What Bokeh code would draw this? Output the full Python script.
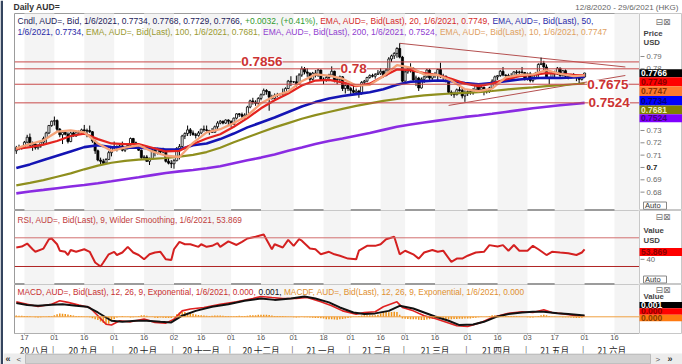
import pandas as pd
from bokeh.plotting import figure
from bokeh.layouts import column, row
from bokeh.models import ColumnDataSource, Range1d, FixedTicker, Label, Span
from bokeh.core.properties import value
from bokeh.embed import file_html
from bokeh.resources import INLINE

# ----------------------------------------------------------------- data
FIRST_DAY = "2020-08-12"
AXIS_END_DAY = "2021-06-29"

OPEN = [0.7135, 0.7160, 0.7155,
        0.7165, 0.7205, 0.7245, 0.7180, 0.7190, 0.7160, 0.7175, 0.7205, 0.7235, 0.7280,
        0.7340, 0.7375, 0.7380, 0.7310, 0.7265, 0.7285, 0.7270, 0.7210, 0.7280, 0.7255,
        0.7285, 0.7290, 0.7305, 0.7295, 0.7300, 0.7290, 0.7215, 0.7135, 0.7060, 0.7050,
        0.7035, 0.7065, 0.7120, 0.7160, 0.7170, 0.7165, 0.7175, 0.7140, 0.7155, 0.7180,
        0.7235, 0.7200, 0.7165, 0.7140, 0.7080, 0.7085, 0.7050, 0.7070, 0.7140, 0.7120,
        0.7145, 0.7125, 0.7135, 0.7050, 0.7035, 0.7030, 0.7055, 0.7155, 0.7170, 0.7255,
        0.7275, 0.7305, 0.7280, 0.7265, 0.7260, 0.7280, 0.7310, 0.7305, 0.7300, 0.7295,
        0.7285, 0.7330, 0.7360, 0.7375, 0.7360, 0.7385, 0.7375, 0.7350, 0.7400, 0.7435,
        0.7430, 0.7415, 0.7425, 0.7490, 0.7540, 0.7530, 0.7520, 0.7560, 0.7590, 0.7625,
        0.7615, 0.7570, 0.7560, 0.7585, 0.7590, 0.7595, 0.7600, 0.7640, 0.7700, 0.7695,
        0.7695, 0.7680, 0.7750, 0.7800, 0.7775, 0.7765, 0.7715, 0.7765, 0.7745, 0.7790,
        0.7715, 0.7710, 0.7730, 0.7750, 0.7780, 0.7710, 0.7715, 0.7735, 0.7640, 0.7665,
        0.7640, 0.7625, 0.7610, 0.7620, 0.7600, 0.7690, 0.7700, 0.7730, 0.7745, 0.7740,
        0.7755, 0.7765, 0.7780, 0.7745, 0.7790, 0.7880, 0.7905, 0.7925, 0.7965, 0.7895,
        0.7700, 0.7775, 0.7800, 0.7805, 0.7710, 0.7725, 0.7645, 0.7715, 0.7735, 0.7790,
        0.7725, 0.7745, 0.7745, 0.7795, 0.7735, 0.7740, 0.7725, 0.7610, 0.7595, 0.7590,
        0.7630, 0.7625, 0.7580, 0.7600, 0.7615, 0.7605, 0.7630, 0.7665, 0.7630, 0.7650,
        0.7615, 0.7620, 0.7645, 0.7700, 0.7735, 0.7745, 0.7780, 0.7750, 0.7745, 0.7715,
        0.7730, 0.7775, 0.7770, 0.7775, 0.7770, 0.7715, 0.7760, 0.7705, 0.7730, 0.7765,
        0.7835, 0.7845, 0.7815, 0.7725, 0.7730, 0.7770, 0.7760, 0.7805, 0.7745, 0.7785,
        0.7740, 0.7735, 0.7750, 0.7735, 0.7735, 0.7715, 0.7734]
HIGH = [0.7175, 0.7185, 0.7175,
        0.7215, 0.7265, 0.7275, 0.7210, 0.7200, 0.7190, 0.7215, 0.7250, 0.7290, 0.7345,
        0.7380, 0.7413, 0.7390, 0.7320, 0.7300, 0.7300, 0.7285, 0.7290, 0.7300, 0.7290,
        0.7300, 0.7315, 0.7345, 0.7315, 0.7340, 0.7295, 0.7225, 0.7145, 0.7080, 0.7070,
        0.7075, 0.7135, 0.7170, 0.7210, 0.7180, 0.7185, 0.7210, 0.7170, 0.7190, 0.7243,
        0.7240, 0.7210, 0.7175, 0.7145, 0.7100, 0.7100, 0.7080, 0.7150, 0.7145, 0.7160,
        0.7150, 0.7160, 0.7140, 0.7080, 0.7060, 0.7070, 0.7165, 0.7190, 0.7265, 0.7285,
        0.7340, 0.7320, 0.7300, 0.7280, 0.7295, 0.7315, 0.7340, 0.7340, 0.7305, 0.7320,
        0.7340, 0.7375, 0.7385, 0.7380, 0.7390, 0.7390, 0.7380, 0.7405, 0.7440, 0.7440,
        0.7445, 0.7440, 0.7500, 0.7550, 0.7565, 0.7545, 0.7570, 0.7600, 0.7640, 0.7635,
        0.7620, 0.7590, 0.7600, 0.7605, 0.7600, 0.7640, 0.7650, 0.7710, 0.7740, 0.7700,
        0.7745, 0.7765, 0.7820, 0.7815, 0.7805, 0.7770, 0.7775, 0.7790, 0.7800, 0.7795,
        0.7730, 0.7745, 0.7760, 0.7820, 0.7785, 0.7730, 0.7745, 0.7740, 0.7675, 0.7680,
        0.7655, 0.7665, 0.7640, 0.7630, 0.7700, 0.7710, 0.7735, 0.7755, 0.7760, 0.7765,
        0.7790, 0.7805, 0.7785, 0.7805, 0.7895, 0.7915, 0.7935, 0.7975, 0.8007, 0.7905,
        0.7790, 0.7815, 0.7845, 0.7810, 0.7745, 0.7735, 0.7730, 0.7745, 0.7800, 0.7800,
        0.7765, 0.7775, 0.7800, 0.7850, 0.7760, 0.7745, 0.7730, 0.7625, 0.7615, 0.7640,
        0.7655, 0.7650, 0.7625, 0.7625, 0.7625, 0.7645, 0.7675, 0.7670, 0.7665, 0.7655,
        0.7630, 0.7655, 0.7715, 0.7745, 0.7750, 0.7790, 0.7815, 0.7755, 0.7760, 0.7765,
        0.7780, 0.7790, 0.7785, 0.7815, 0.7775, 0.7770, 0.7775, 0.7745, 0.7775, 0.7845,
        0.7891, 0.7865, 0.7835, 0.7735, 0.7780, 0.7785, 0.7815, 0.7810, 0.7790, 0.7795,
        0.7745, 0.7760, 0.7765, 0.7745, 0.7750, 0.7745, 0.7768]
LOW = [0.7110, 0.7140, 0.7145,
       0.7155, 0.7195, 0.7170, 0.7135, 0.7145, 0.7145, 0.7160, 0.7180, 0.7190, 0.7270,
       0.7330, 0.7340, 0.7290, 0.7245, 0.7190, 0.7260, 0.7195, 0.7205, 0.7250, 0.7250,
       0.7265, 0.7270, 0.7285, 0.7245, 0.7280, 0.7200, 0.7110, 0.7050, 0.7020, 0.7025,
       0.7030, 0.7060, 0.7090, 0.7150, 0.7130, 0.7150, 0.7130, 0.7125, 0.7145, 0.7175,
       0.7195, 0.7155, 0.7135, 0.7070, 0.7060, 0.7045, 0.7020, 0.7065, 0.7090, 0.7105,
       0.7110, 0.7115, 0.7040, 0.7025, 0.6995, 0.6990, 0.7050, 0.7065, 0.7160, 0.7230,
       0.7255, 0.7255, 0.7260, 0.7235, 0.7250, 0.7270, 0.7290, 0.7290, 0.7265, 0.7280,
       0.7285, 0.7310, 0.7350, 0.7350, 0.7355, 0.7340, 0.7330, 0.7345, 0.7390, 0.7410,
       0.7390, 0.7395, 0.7420, 0.7480, 0.7510, 0.7500, 0.7505, 0.7545, 0.7585, 0.7590,
       0.7460, 0.7550, 0.7550, 0.7570, 0.7585, 0.7585, 0.7595, 0.7635, 0.7660, 0.7685,
       0.7655, 0.7670, 0.7735, 0.7755, 0.7735, 0.7690, 0.7705, 0.7730, 0.7735, 0.7705,
       0.7675, 0.7695, 0.7700, 0.7745, 0.7690, 0.7675, 0.7690, 0.7620, 0.7600, 0.7620,
       0.7590, 0.7600, 0.7590, 0.7565, 0.7590, 0.7665, 0.7690, 0.7720, 0.7730, 0.7720,
       0.7750, 0.7750, 0.7730, 0.7740, 0.7785, 0.7855, 0.7880, 0.7890, 0.7885, 0.7690,
       0.7695, 0.7760, 0.7770, 0.7700, 0.7660, 0.7620, 0.7640, 0.7685, 0.7725, 0.7710,
       0.7705, 0.7725, 0.7705, 0.7725, 0.7710, 0.7690, 0.7605, 0.7580, 0.7565, 0.7585,
       0.7615, 0.7560, 0.7532, 0.7580, 0.7590, 0.7590, 0.7625, 0.7620, 0.7615, 0.7585,
       0.7600, 0.7605, 0.7640, 0.7690, 0.7710, 0.7735, 0.7740, 0.7710, 0.7700, 0.7705,
       0.7720, 0.7740, 0.7740, 0.7760, 0.7705, 0.7705, 0.7690, 0.7690, 0.7715, 0.7735,
       0.7830, 0.7790, 0.7720, 0.7675, 0.7720, 0.7725, 0.7750, 0.7735, 0.7740, 0.7725,
       0.7715, 0.7720, 0.7725, 0.7700, 0.7675, 0.7705, 0.7729]
CLOSE = [0.7160, 0.7155, 0.7165,
         0.7205, 0.7245, 0.7180, 0.7190, 0.7160, 0.7175, 0.7205, 0.7235, 0.7280, 0.7340,
         0.7375, 0.7380, 0.7310, 0.7265, 0.7285, 0.7270, 0.7210, 0.7280, 0.7255, 0.7285,
         0.7290, 0.7305, 0.7295, 0.7300, 0.7290, 0.7215, 0.7135, 0.7060, 0.7050, 0.7035,
         0.7065, 0.7120, 0.7160, 0.7170, 0.7165, 0.7175, 0.7140, 0.7155, 0.7180, 0.7235,
         0.7200, 0.7165, 0.7140, 0.7080, 0.7085, 0.7050, 0.7070, 0.7140, 0.7120, 0.7145,
         0.7125, 0.7135, 0.7050, 0.7035, 0.7030, 0.7055, 0.7155, 0.7170, 0.7255, 0.7275,
         0.7305, 0.7280, 0.7265, 0.7260, 0.7280, 0.7310, 0.7305, 0.7300, 0.7295, 0.7285,
         0.7330, 0.7360, 0.7375, 0.7360, 0.7385, 0.7375, 0.7350, 0.7400, 0.7435, 0.7430,
         0.7415, 0.7425, 0.7490, 0.7540, 0.7530, 0.7520, 0.7560, 0.7590, 0.7625, 0.7615,
         0.7570, 0.7560, 0.7585, 0.7590, 0.7595, 0.7600, 0.7640, 0.7700, 0.7695, 0.7695,
         0.7680, 0.7750, 0.7800, 0.7775, 0.7765, 0.7715, 0.7765, 0.7745, 0.7790, 0.7715,
         0.7710, 0.7730, 0.7750, 0.7780, 0.7710, 0.7715, 0.7735, 0.7640, 0.7665, 0.7640,
         0.7625, 0.7610, 0.7620, 0.7600, 0.7690, 0.7700, 0.7730, 0.7745, 0.7740, 0.7755,
         0.7765, 0.7780, 0.7745, 0.7790, 0.7880, 0.7905, 0.7925, 0.7965, 0.7895, 0.7700,
         0.7775, 0.7800, 0.7805, 0.7710, 0.7725, 0.7645, 0.7715, 0.7735, 0.7790, 0.7725,
         0.7745, 0.7745, 0.7795, 0.7735, 0.7740, 0.7725, 0.7610, 0.7595, 0.7590, 0.7630,
         0.7625, 0.7580, 0.7600, 0.7615, 0.7605, 0.7630, 0.7665, 0.7630, 0.7650, 0.7615,
         0.7620, 0.7645, 0.7700, 0.7735, 0.7745, 0.7780, 0.7750, 0.7745, 0.7715, 0.7730,
         0.7775, 0.7770, 0.7775, 0.7770, 0.7715, 0.7760, 0.7705, 0.7730, 0.7765, 0.7835,
         0.7845, 0.7815, 0.7725, 0.7730, 0.7770, 0.7760, 0.7805, 0.7745, 0.7785, 0.7740,
         0.7735, 0.7750, 0.7735, 0.7735, 0.7715, 0.7734, 0.7766]

# EMA lines, one reading per week (trading-day index)
EMA_IDX = list(range(0, 206, 5)) + [209]
EMA10 = [0.7155, 0.7190, 0.7220, 0.7290, 0.7300, 0.7285, 0.7195, 0.7135, 0.7160, 0.7180,
         0.7130, 0.7095, 0.7085, 0.7200, 0.7285, 0.7310, 0.7360, 0.7420, 0.7520, 0.7580,
         0.7615, 0.7700, 0.7755, 0.7745, 0.7720, 0.7665, 0.7670, 0.7740, 0.7830, 0.7810,
         0.7755, 0.7750, 0.7705, 0.7635, 0.7620, 0.7640, 0.7730, 0.7750, 0.7755, 0.7790,
         0.7760, 0.7740, 0.7747]
EMA20 = [0.7150, 0.7165, 0.7185, 0.7215, 0.7255, 0.7275, 0.7230, 0.7195, 0.7190, 0.7190,
         0.7160, 0.7130, 0.7135, 0.7190, 0.7235, 0.7270, 0.7330, 0.7400, 0.7480, 0.7545,
         0.7600, 0.7665, 0.7705, 0.7710, 0.7690, 0.7660, 0.7680, 0.7740, 0.7795, 0.7790,
         0.7765, 0.7750, 0.7720, 0.7680, 0.7660, 0.7680, 0.7715, 0.7740, 0.7750, 0.7765,
         0.7760, 0.7752, 0.7749]
EMA50 = [0.6995, 0.7025, 0.7060, 0.7095, 0.7130, 0.7165, 0.7180, 0.7165, 0.7160, 0.7160,
         0.7155, 0.7145, 0.7145, 0.7180, 0.7195, 0.7230, 0.7275, 0.7325, 0.7365, 0.7405,
         0.7450, 0.7495, 0.7530, 0.7560, 0.7580, 0.7595, 0.7610, 0.7635, 0.7670, 0.7695,
         0.7700, 0.7705, 0.7700, 0.7685, 0.7675, 0.7685, 0.7700, 0.7713, 0.7724, 0.7728,
         0.7726, 0.7730, 0.7734]
EMA100 = [0.6855, 0.6875, 0.6897, 0.6925, 0.6952, 0.6985, 0.7015, 0.7038, 0.7053, 0.7063,
          0.7070, 0.7077, 0.7088, 0.7102, 0.7125, 0.7160, 0.7205, 0.7245, 0.7285, 0.7325,
          0.7360, 0.7395, 0.7425, 0.7450, 0.7475, 0.7500, 0.7520, 0.7540, 0.7555, 0.7572,
          0.7585, 0.7593, 0.7600, 0.7605, 0.7610, 0.7620, 0.7632, 0.7642, 0.7650, 0.7660,
          0.7667, 0.7675, 0.7681]
EMA200 = [0.6790, 0.6805, 0.6818, 0.6832, 0.6845, 0.6858, 0.6872, 0.6888, 0.6905, 0.6920,
          0.6938, 0.6955, 0.6968, 0.6980, 0.6993, 0.7010, 0.7035, 0.7058, 0.7080, 0.7105,
          0.7135, 0.7162, 0.7190, 0.7215, 0.7235, 0.7258, 0.7280, 0.7305, 0.7330, 0.7348,
          0.7365, 0.7380, 0.7395, 0.7410, 0.7422, 0.7435, 0.7450, 0.7465, 0.7480, 0.7493,
          0.7505, 0.7515, 0.7524]

LEVELS = [0.7856, 0.78, 0.7675, 0.7524]
TREND_DOWN_DATES = ["2021-02-25", "2021-06-22"]
TREND_DOWN_VALUES = [0.8007, 0.7815]
TREND_UP_DATES = ["2021-03-23", "2021-06-22"]
TREND_UP_VALUES = [0.7503, 0.7746]

RSI_IDX = [0, 2, 4, 6, 7, 10, 12, 13, 15, 16, 18, 19, 20, 22, 25, 27, 29, 31, 32, 34,
           36, 37, 39, 41, 43, 45, 47, 49, 51, 53, 55, 57, 58, 60, 62, 64, 67, 68, 70, 72,
           74, 75, 78, 81, 83, 85, 88, 91, 94, 95, 98, 100, 102, 104, 105, 108, 110, 112, 115, 117,
           119, 122, 125, 126, 129, 132, 134, 136, 139, 141, 143, 146, 148, 150, 153, 155, 157, 160, 162, 164,
           166, 169, 172, 174, 177, 179, 181, 183, 185, 188, 190, 192, 195, 197, 200, 203, 206, 208, 209]
RSI = [56.5, 57.8, 62.0, 54.0, 50.5, 55.0, 68.0, 69.0, 61.0, 52.0, 50.5, 46.0, 53.0, 50.5, 54.0, 50.5, 35.6, 30.0, 35.6, 47.0,
       50.5, 46.0, 49.5, 57.4, 49.5, 46.0, 40.0, 47.0, 49.5, 50.5, 40.0, 39.0, 54.0, 64.4, 61.0, 61.0, 57.4, 61.0, 57.4, 58.8,
       62.5, 57.4, 65.0, 60.0, 64.4, 69.0, 71.4, 74.6, 54.0, 61.0, 56.5, 67.2, 58.8, 68.0, 66.0, 55.0, 54.0, 47.0, 50.5, 47.0,
       45.0, 41.0, 40.0, 52.0, 58.8, 58.8, 61.0, 68.0, 71.4, 47.0, 52.0, 47.0, 41.0, 49.5, 53.0, 50.5, 52.0, 36.5, 41.0, 41.0,
       45.0, 49.5, 50.5, 59.8, 58.0, 59.8, 52.0, 60.0, 52.0, 52.0, 58.8, 54.0, 46.0, 50.5, 49.5, 48.6, 46.0, 49.5, 53.869]
RSI_LEVELS = [70, 30]
RSI_TICKS = [40]

MACD_IDX = [0, 4, 8, 13, 16, 19, 23, 27, 30, 33, 35, 38, 42, 47, 51, 55, 58, 61, 64, 69,
            75, 81, 87, 90, 94, 98, 103, 107, 112, 116, 120, 125, 128, 132, 135, 140, 142, 146, 150, 154,
            159, 162, 166, 171, 175, 181, 186, 190, 194, 197, 202, 206, 209]
MACD = [0.0083, 0.0070, 0.0057, 0.0070, 0.0089, 0.0080, 0.0065, 0.0052, 0.0006, -0.0041,
        -0.0046, -0.0022, -0.0028, -0.0013, -0.0031, -0.0035, -0.0013, 0.0033, 0.0043, 0.0052,
        0.0070, 0.0083, 0.0102, 0.0113, 0.0107, 0.0102, 0.0102, 0.0107, 0.0083, 0.0061,
        0.0033, 0.0015, 0.0024, 0.0028, 0.0056, 0.0083, 0.0052, 0.0033, 0.0006, -0.0009,
        -0.0035, -0.0050, -0.0054, -0.0031, -0.0004, 0.0019, 0.0028, 0.0024, 0.0039, 0.0024,
        0.0015, 0.0006, 0.0004]
SIGNAL_IDX = [0, 4, 8, 13, 17, 22, 26, 30, 35, 39, 44, 48, 53, 57, 61, 66, 72, 78, 84, 90,
              95, 101, 106, 110, 115, 119, 124, 128, 132, 137, 141, 146, 150, 154, 159, 163, 168, 172, 177, 181,
              186, 190, 194, 199, 203, 209]
SIGNAL = [0.0076, 0.0065, 0.0061, 0.0067, 0.0070, 0.0061, 0.0056, 0.0024, -0.0022, -0.0028,
          -0.0022, -0.0022, -0.0028, -0.0031, 0.0006, 0.0033, 0.0056, 0.0070, 0.0089, 0.0102,
          0.0094, 0.0102, 0.0113, 0.0102, 0.0080, 0.0052, 0.0024, 0.0015, 0.0019, 0.0033,
          0.0061, 0.0046, 0.0024, 0.0002, -0.0022, -0.0046, -0.0043, -0.0028, 0.0002, 0.0015,
          0.0024, 0.0028, 0.0028, 0.0020, 0.0015, 0.0007]
HIST = [0.0007, 0.0006, 0.0006,
        0.0005, 0.0005, 0.0003, 0.0000, -0.0003, -0.0004, -0.0003, -0.0001, 0.0002, 0.0005,
        0.0003, 0.0008, 0.0014, 0.0019, 0.0017, 0.0015, 0.0013, 0.0010, 0.0007, 0.0005,
        0.0005, 0.0003, 0.0001, -0.0001, -0.0003, -0.0008, -0.0014, -0.0018, -0.0026, -0.0034,
        -0.0040, -0.0038, -0.0024, -0.0012, -0.0004, 0.0002, 0.0004, 0.0002, -0.0001, -0.0004,
        -0.0003, 0.0001, 0.0005, 0.0008, 0.0009, 0.0006, 0.0002, -0.0001, -0.0005, -0.0006,
        -0.0004, -0.0005, -0.0006, -0.0007, -0.0006, 0.0002, 0.0014, 0.0024, 0.0027, 0.0026,
        0.0022, 0.0020, 0.0017, 0.0013, 0.0010, 0.0008, 0.0007, 0.0006, 0.0005, 0.0006,
        0.0007, 0.0007, 0.0007, 0.0006, 0.0005, 0.0004, 0.0003, 0.0003, 0.0005, 0.0006,
        0.0005, 0.0004, 0.0006, 0.0008, 0.0008, 0.0009, 0.0011, 0.0011, 0.0012, 0.0012,
        0.0010, 0.0007, 0.0005, 0.0004, 0.0004, 0.0004, 0.0003, 0.0001, -0.0001, -0.0002,
        -0.0004, -0.0002, -0.0001, -0.0002, -0.0003, -0.0004, -0.0005, -0.0006, -0.0007, -0.0008,
        -0.0010, -0.0013, -0.0013, -0.0014, -0.0015, -0.0016, -0.0014, -0.0012, -0.0009, -0.0006,
        -0.0004, -0.0001, 0.0002, 0.0004, 0.0007, 0.0009, 0.0009, 0.0008, 0.0009, 0.0009,
        0.0012, 0.0018, 0.0027, 0.0026, 0.0025, 0.0027, 0.0028, 0.0026, 0.0012, -0.0010,
        -0.0011, -0.0012, -0.0013, -0.0013, -0.0014, -0.0016, -0.0018, -0.0018, -0.0015, -0.0013,
        -0.0011, -0.0010, -0.0009, -0.0010, -0.0012, -0.0013, -0.0013, -0.0013, -0.0012, -0.0012,
        -0.0011, -0.0011, -0.0010, -0.0010, -0.0009, -0.0007, -0.0005, -0.0003, -0.0001, 0.0000,
        0.0002, 0.0005, 0.0008, 0.0009, 0.0008, 0.0007, 0.0006, 0.0005, 0.0004, 0.0004,
        0.0004, 0.0004, 0.0003, 0.0002, 0.0000, -0.0002, -0.0004, -0.0004, -0.0001, 0.0005,
        0.0009, 0.0011, 0.0008, 0.0004, 0.0002, 0.0001, 0.0000, -0.0001, -0.0002, -0.0002,
        -0.0003, -0.0004, -0.0005, -0.0006, -0.0007, -0.0005, 0.0000]

DAY_TICKS = ["2020-08-17", "2020-09-01", "2020-09-16", "2020-10-01", "2020-10-16", "2020-11-02",
             "2020-11-16", "2020-12-01", "2020-12-16", "2021-01-01", "2021-01-18", "2021-02-01",
             "2021-02-16", "2021-03-01", "2021-03-16", "2021-04-01", "2021-04-16", "2021-05-03",
             "2021-05-17", "2021-06-01", "2021-06-16"]
MONTH_LABELS = ["20 八月", "20 九月", "20 十月", "20 十一月", "20 十二月", "21 一月",
                "21 二月", "21 三月", "21 四月", "21 五月", "21 六月"]
PRICE_TICKS = [0.68, 0.69, 0.70, 0.71, 0.72, 0.73, 0.74, 0.75, 0.76, 0.77, 0.78, 0.79]

# ----------------------------------------------------------------- layout constants
FONT = "Liberation Sans"
CJK = "Noto Sans CJK SC"
W, H = 682, 364
STRIP = 3                # dark window edge on the left
FRAME_L = 14             # page x of the chart frames' left edge
FRAME_R = 639            # page x of the chart frames' right edge
MAIN_W = FRAME_R - STRIP
SIDE_W = W - FRAME_R
FRAME_W = FRAME_R - FRAME_L

days = pd.bdate_range(FIRST_DAY, AXIS_END_DAY)
pos = {d.strftime("%Y-%m-%d"): i for i, d in enumerate(days)}
n = len(CLOSE)
idx = list(range(n))
XR0, XR1 = -0.66, pos[AXIS_END_DAY] + 0.2
XR = Range1d(XR0, XR1)
PPX = FRAME_W / (XR1 - XR0)

# panel vertical geometry on the page (top, height) and value ranges
H_H = 13
P_TOP, P_H = 13, 197
R_TOP, R_H = 210, 74
M_TOP, M_FH, M_AX = 284, 49, 10
F_TOP, F_H = 343, 21
P_Y = (0.66510, 0.82487)
R_Y = (4.91, 108.05)
M_Y = (-0.009278, 0.017944)

AW = {" ": 278, ",": 278, ".": 278, "/": 278, "(": 333, ")": 333, "+": 584,
      "-": 333, "%": 889, "=": 584, "A": 667, "B": 667, "C": 722, "D": 722, "E": 667,
      "F": 611, "I": 278, "L": 556, "M": 833, "R": 722, "S": 667, "U": 722, "W": 944,
      "c": 500, "i": 222, "l": 222, "m": 833, "r": 333, "s": 500, "t": 278, "x": 500}


def tw(s, size):
    return sum(AW.get(ch, 556) for ch in s) * size / 1000.0


def cx2x(cx):
    """page x -> trading-day axis value"""
    return XR0 + (cx - FRAME_L) / PPX


def cy2v(cy, top, h, yr):
    return yr[1] - (cy - top) / h * (yr[1] - yr[0])


def txt(fig, xs, ys, texts, size, color, bold=False, align="left", font=FONT):
    fig.text(x=xs, y=ys, text=texts, text_font=value(font), text_font_size=value(f"{size}px"),
             text_color=color, text_font_style="bold" if bold else "normal",
             text_align=align, text_baseline="middle")


def lab(fig, x, y, text, size, color, bold=False, bg=None):
    fig.add_layout(Label(x=x, y=y, text=text, text_font=FONT, text_font_size=f"{size}px",
                         text_color=color, text_font_style="bold" if bold else "normal",
                         text_baseline="middle", background_fill_color=bg))


def main_fig(h, yr, bottom=0, xaxis=False):
    f = figure(width=MAIN_W, height=h, x_range=XR, y_range=Range1d(*yr),
               output_backend="svg", toolbar_location=None,
               x_axis_location=("below" if xaxis else None), y_axis_location=None,
               min_border_left=FRAME_L - STRIP, min_border_right=0, min_border_top=0,
               min_border_bottom=bottom)
    f.grid.visible = False
    f.outline_line_color = "#9c9c9c"
    f.border_fill_color = "white"
    f.background_fill_color = "white"
    tick_idx = [pos[d] for d in DAY_TICKS]
    bl = [tick_idx[i] for i in range(0, len(tick_idx), 2)]
    br = [tick_idx[i + 1] if i + 1 < len(tick_idx) else XR1 for i in range(0, len(tick_idx), 2)]
    f.quad(left=bl, right=br, bottom=yr[0] - 1, top=yr[1] + 1, fill_color="#f4f4f4", line_color=None)
    return f


def plain_fig(w, h, xr, yr):
    f = figure(width=w, height=h, x_range=xr, y_range=yr, output_backend="svg",
               toolbar_location=None, x_axis_location=None, y_axis_location=None, min_border=0)
    f.grid.visible = False
    f.outline_line_color = None
    f.border_fill_color = "white"
    f.background_fill_color = "white"
    return f


last_day = pd.Timestamp(days[n - 1])
LD = f"{last_day.day}/{last_day.month}/{last_day.year}"

# ----------------------------------------------------------------- window edge
strip = plain_fig(STRIP, H, Range1d(0, STRIP), Range1d(H, 0))
strip.quad(left=0, right=STRIP, top=0, bottom=H, fill_color="#34445e", line_color=None)

# ----------------------------------------------------------------- header
hdr = plain_fig(W - STRIP, H_H, Range1d(STRIP, W), Range1d(H_H, 0))
txt(hdr, [13], [6.4], ["Daily AUD="], 8.6, "#333333", bold=True)
txt(hdr, [678], [6.6], ["12/8/2020 - 29/6/2021 (HKG)"], 8, "#666666", align="right")

# ----------------------------------------------------------------- price panel
p = main_fig(P_H, P_Y)
for v in LEVELS:
    p.add_layout(Span(location=v, dimension="width", line_color="#c84a4a", line_width=1))
p.line([pos[d] for d in TREND_DOWN_DATES], TREND_DOWN_VALUES, line_color="#b45050", line_width=1)
p.line([pos[d] for d in TREND_UP_DATES], TREND_UP_VALUES, line_color="#b45050", line_width=1)

src = ColumnDataSource(dict(
    x=idx, hi=HIGH, lo=LOW,
    top=[max(o, c) for o, c in zip(OPEN, CLOSE)],
    bot=[min(o, c) for o, c in zip(OPEN, CLOSE)],
    fill=["white" if c >= o else "black" for o, c in zip(OPEN, CLOSE)]))
p.segment("x", "lo", "x", "hi", source=src, line_color="black", line_width=1)
p.vbar(x="x", width=0.75, top="top", bottom="bot", fill_color="fill", line_color="black",
       line_width=0.8, source=src)

for vals, col, lw in [(EMA200, "#8a2be2", 2.6), (EMA100, "#8f8f1e", 2.2), (EMA50, "#1414b4", 2.6),
                      (EMA20, "#e4231e", 2.2), (EMA10, "#f4a278", 2.3)]:
    p.line(EMA_IDX, vals, line_color=col, line_width=lw)

for v, cx in zip(LEVELS, [240.7, 340, 586.7, 588]):
    lab(p, cx2x(cx), v, "%g" % v, 13.5, "#cc3333", bold=True, bg="white")

NAVY, GREEN, RED, BLUE, OLIVE, PURPLE, ORANGE = ("#1c1c5a", "#2f9a2f", "#d42a2a", "#2a2aa8",
                                                 "#9a9a30", "#9040d0", "#e0a060")
chg = CLOSE[-1] - CLOSE[-2]
line1 = [(f"Cndl, AUD=, Bid, {LD}, {OPEN[-1]:.4f}, {HIGH[-1]:.4f}, {LOW[-1]:.4f}, {CLOSE[-1]:.4f}, ", NAVY),
         (f"{chg:+.4f}, ({chg / CLOSE[-2] * 100:+.2f}%), ", GREEN),
         (f"EMA, AUD=, Bid(Last), 20, {LD}, {EMA20[-1]:.4f}, ", RED),
         ("EMA, AUD=, Bid(Last), 50, ", BLUE)]
line2 = [(f"{LD}, {EMA50[-1]:.4f}, ", BLUE),
         (f"EMA, AUD=, Bid(Last), 100, {LD}, {EMA100[-1]:.4f}, ", OLIVE),
         (f"EMA, AUD=, Bid(Last), 200, {LD}, {EMA200[-1]:.4f}, ", PURPLE),
         (f"EMA, AUD=, Bid(Last), 10, {LD}, {EMA10[-1]:.4f}", ORANGE)]


def segments(fig, cx, cy, segs, size, top, h, yr):
    for s, col in segs:
        lab(fig, cx2x(cx), cy2v(cy, top, h, yr), s, size, col)
        cx += tw(s, size)


segments(p, 17, 20.4, line1, 8.5, P_TOP, P_H, P_Y)
segments(p, 17, 31.9, line2, 8.5, P_TOP, P_H, P_Y)

# price side column (shares the price scale)
ps = plain_fig(SIDE_W, P_H, Range1d(0, SIDE_W), p.y_range)
ps.outline_line_color = "#c8c8c8"
ps.segment(x0=1, y0=PRICE_TICKS, x1=5, y1=PRICE_TICKS, line_color="#8a8a8a")
tl = ["%g" % t for t in PRICE_TICKS]
txt(ps, [7] * len(tl), PRICE_TICKS, [t if t != "0.7" else "" for t in tl], 7.8, "#6a6a6a")
txt(ps, [7], [0.70], ["0.7"], 7.8, "#222222", bold=True)


def pv(cy):
    return cy2v(cy, P_TOP, P_H, P_Y)


txt(ps, [16], [pv(21.0)], ["⊟⊠"], 9, "#777777", font="DejaVu Sans")
txt(ps, [4], [pv(32.8)], ["Price"], 7.8, "#444444", bold=True)
txt(ps, [4], [pv(42.0)], ["USD"], 7.8, "#444444", bold=True)
P_BOX_EDGES = [68.7, 76.7, 85.8, 95.5, 105.0, 113.8, 121.7]
p_boxes = [(f"{CLOSE[-1]:.4f}", "#000000", "#ffffff"),
           (f"{EMA20[-1]:.4f}", "#ff0000", "#8a0000"),
           (f"{EMA10[-1]:.4f}", "#ff7a30", "#8a3000"),
           (f"{EMA50[-1]:.4f}", "#0000ff", "#00007a"),
           (f"{EMA100[-1]:.4f}", "#808000", "#eeeebb"),
           (f"{EMA200[-1]:.4f}", "#8000ff", "#40007a")]
for k, (t, bg, fg) in enumerate(p_boxes):
    a, b = P_BOX_EDGES[k], P_BOX_EDGES[k + 1]
    ps.quad(left=-1, right=SIDE_W + 1, top=pv(a), bottom=pv(b), fill_color=bg, line_color=None)
    txt(ps, [1.5], [pv((a + b) / 2)], [t], 8.5, fg, bold=True)
ps.quad(left=4, right=27, top=pv(201.5), bottom=pv(208.8), fill_color="white", line_color="#888888")
txt(ps, [5.5], [pv(205.3)], ["Auto"], 7.6, "#333333")

# ----------------------------------------------------------------- RSI panel
r = main_fig(R_H, R_Y)
r.add_layout(Span(location=RSI_LEVELS[0], dimension="width", line_color="#d27070", line_width=1))
r.add_layout(Span(location=RSI_LEVELS[1], dimension="width", line_color="#b02424", line_width=1))
r.line(RSI_IDX, RSI, line_color="#d42020", line_width=2)
lab(r, cx2x(17), cy2v(219.2, R_TOP, R_H, R_Y),
    f"RSI, AUD=, Bid(Last), 9, Wilder Smoothing, {LD}, {RSI[-1]:.3f}", 8.3, "#c03c3c")

rs = plain_fig(SIDE_W, R_H, Range1d(0, SIDE_W), r.y_range)
rs.outline_line_color = "#c8c8c8"


def rv(cy):
    return cy2v(cy, R_TOP, R_H, R_Y)


rs.segment(x0=1, y0=RSI_TICKS, x1=5, y1=RSI_TICKS, line_color="#8a8a8a")
txt(rs, [7] * len(RSI_TICKS), RSI_TICKS, ["%g" % t for t in RSI_TICKS], 7.8, "#6a6a6a")
txt(rs, [16], [rv(216.5)], ["⊟⊠"], 9, "#777777", font="DejaVu Sans")
txt(rs, [4], [rv(230)], ["Value"], 7.8, "#444444", bold=True)
txt(rs, [4], [rv(240)], ["USD"], 7.8, "#444444", bold=True)
rs.quad(left=-1, right=SIDE_W + 1, top=rv(247.4), bottom=rv(255.4), fill_color="#ff0000", line_color=None)
txt(rs, [1.5], [rv(251.4)], [f"{RSI[-1]:.3f}"], 8.5, "#8a0000", bold=True)
rs.quad(left=4, right=27, top=rv(275.5), bottom=rv(282.5), fill_color="white", line_color="#888888")
txt(rs, [5.5], [rv(279)], ["Auto"], 7.6, "#333333")

# ----------------------------------------------------------------- MACD panel
m = main_fig(M_FH + M_AX, M_Y, bottom=M_AX, xaxis=True)
m.add_layout(Span(location=0, dimension="width", line_color="#f0a040", line_width=1))
m.vbar(x=idx, top=HIST, bottom=0, width=0.55, fill_color="#f09418", line_color=None)
m.line(MACD_IDX, MACD, line_color="#e02020", line_width=1.6)
m.line(SIGNAL_IDX, SIGNAL, line_color="#111111", line_width=2)
segments(m, 17, 291.2,
         [(f"MACD, AUD=, Bid(Last), 12, 26, 9, Exponential, {LD}, {MACD[-1]:.3f}, ", "#c83030"),
          (f"{SIGNAL[-1]:.3f}, ", "#111111"),
          (f"MACDF, AUD=, Bid(Last), 12, 26, 9, Exponential, {LD}, {HIST[-1]:.3f}", "#e09030")],
         8.3, M_TOP, M_FH, M_Y)

tick_idx = [pos[d] for d in DAY_TICKS]
xa = m.xaxis[0]
xa.ticker = FixedTicker(ticks=tick_idx)
ov = {}
for t, d in zip(tick_idx, DAY_TICKS):
    ov[t] = d[-2:]
    ov[str(t)] = d[-2:]
xa.major_label_overrides = ov
xa.axis_line_color = "#b0b0b0"
xa.major_tick_line_color = "#909090"
xa.major_tick_out = 1
xa.major_tick_in = 0
xa.minor_tick_line_color = None
xa.major_label_text_font = FONT
xa.major_label_text_font_size = "7.5px"
xa.major_label_text_color = "#555555"
xa.major_label_standoff = 0

ms = plain_fig(SIDE_W, M_FH + M_AX, Range1d(0, SIDE_W), Range1d(M_TOP + M_FH + M_AX, M_TOP))
ms.outline_line_color = "#c8c8c8"
txt(ms, [16], [290.5], ["⊟⊠"], 9, "#777777", font="DejaVu Sans")
txt(ms, [4], [299.0], ["Value"], 7.8, "#444444", bold=True)
M_BOX_EDGES = [305.0, 312.6, 320.4, 328.3]
m_boxes = [(f"{SIGNAL[-1]:.3f}", "#000000", "#ffffff"),
           (f"{MACD[-1]:.3f}", "#ff0000", "#8a0000"),
           (f"{HIST[-1]:.3f}", "#ff7a10", "#8a3a00")]
for k, (t, bg, fg) in enumerate(m_boxes):
    a, b = M_BOX_EDGES[k], M_BOX_EDGES[k + 1]
    ms.quad(left=-1, right=SIDE_W + 1, top=a, bottom=b, fill_color=bg, line_color=None)
    txt(ms, [1.5], [(a + b) / 2], [t], 8.5, fg, bold=True)

# ----------------------------------------------------------------- footer: months + scroll bar
ft = plain_fig(W - STRIP, F_H, Range1d(cx2x(STRIP), cx2x(W)), Range1d(F_TOP + F_H, F_TOP))
first, lastm = {}, {}
for i, d in enumerate(days):
    k = (d.year, d.month)
    first.setdefault(k, i)
    lastm[k] = i
keys = sorted(first)
mid = [(first[k] + lastm[k]) / 2.0 for k in keys]
sep = [first[k] - 0.5 for k in keys[1:]]
txt(ft, mid, [349.2] * len(mid), MONTH_LABELS, 8.6, "#222222", align="center", font=CJK)
txt(ft, sep, [349.2] * len(sep), ["|"] * len(sep), 8.5, "#777777", align="center")
ft.quad(left=cx2x(STRIP), right=cx2x(W), top=353.0, bottom=364.5, fill_color="#ececec", line_color=None)
ft.quad(left=cx2x(25), right=cx2x(650), top=353.8, bottom=363.2, fill_color="#d2d2d2", line_color="#bbbbbb")
txt(ft, [cx2x(5)], [358.6], ["«"], 9, "#333333", bold=True)
txt(ft, [cx2x(16)], [358.6], ["<"], 8, "#555555")
txt(ft, [cx2x(655)], [358.6], [">"], 8, "#555555")
txt(ft, [cx2x(667)], [358.6], ["»"], 9, "#333333", bold=True)

layout = row(strip, column(hdr, row(p, ps), row(r, rs), row(m, ms), ft))
open("out.html", "w").write(file_html(layout, INLINE))
